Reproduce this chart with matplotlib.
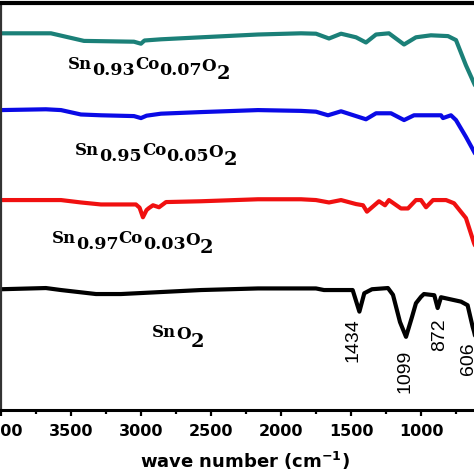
import matplotlib
matplotlib.use("Agg")
import matplotlib.pyplot as plt
import matplotlib.transforms as mtransforms
from matplotlib.ticker import MultipleLocator

# ---------------- data (transmittance, arbitrary units, offset per sample) -------------
teal_wn = [4000, 3643, 3407, 3050, 3000, 2975, 2857, 2571, 2164, 1857, 1750, 1657, 1571,
           1464, 1393, 1321, 1229, 1121, 1036, 929, 807, 750, 679, 621, 600]
teal_t = [94.2, 94.2, 92.3, 92.1, 91.6, 92.4, 92.7, 93.2, 93.9, 94.2, 94.1, 92.9, 94.1,
          93.2, 91.9, 93.9, 94.2, 91.4, 93.2, 93.7, 93.5, 92.5, 86.2, 81.7, 80.1]

blue_wn = [4000, 3679, 3571, 3429, 3286, 3050, 3000, 2960, 2857, 2571, 2164, 1857, 1750,
           1664, 1571, 1464, 1393, 1321, 1214, 1121, 1050, 857, 843, 786, 750, 679, 621, 600]
blue_t = [75.0, 75.2, 75.0, 73.9, 73.7, 73.5, 73.0, 73.6, 74.1, 74.5, 75.0, 74.8, 74.6,
          73.7, 74.7, 73.5, 72.7, 74.2, 74.2, 72.5, 73.7, 73.7, 73.0, 73.7, 72.5, 68.3, 64.6, 63.2]

red_wn = [4000, 3571, 3429, 3286, 3036, 3010, 2986, 2960, 2943, 2914, 2871, 2821, 2571,
          2164, 1857, 1750, 1657, 1571, 1464, 1414, 1386, 1300, 1257, 1229, 1143, 1093,
          1036, 1000, 964, 914, 821, 764, 679, 621, 600]
red_t = [52.5, 52.5, 51.9, 51.4, 51.4, 50.6, 48.2, 50.0, 50.5, 51.2, 50.7, 52.0, 52.2,
         52.7, 52.7, 52.5, 51.9, 52.5, 51.5, 51.2, 49.6, 52.2, 51.2, 52.5, 50.4, 50.4,
         52.5, 52.5, 50.7, 52.5, 52.5, 51.7, 48.0, 41.7, 40.0]

black_wn = [4000, 3679, 3571, 3321, 3143, 2857, 2571, 2164, 1857, 1750, 1693, 1621, 1488,
            1440, 1405, 1350, 1236, 1200, 1150, 1107, 1064, 1036, 1000, 979, 905, 881,
            857, 714, 667, 631, 621, 600]
black_t = [30.2, 30.5, 30.0, 29.0, 29.0, 29.5, 30.0, 30.4, 30.4, 30.4, 30.0, 30.0, 30.0,
           24.6, 29.2, 30.2, 30.5, 28.8, 22.0, 18.3, 23.3, 26.7, 28.3, 29.0, 28.7, 25.5,
           28.2, 27.1, 26.2, 20.8, 19.6, 16.5]

series = [
    (teal_wn, teal_t, "#1b8078"),
    (blue_wn, blue_t, "#0a0ae6"),
    (red_wn, red_t, "#f01010"),
    (black_wn, black_t, "#000000"),
]

# sample labels: (segments, anchor wavenumber, anchor value)
labels = [
    ([("Sn", "n"), ("0.93", "s"), ("Co", "n"), ("0.07", "s"), ("O", "o"), ("2", "e")], 3521, 85.2),
    ([("Sn", "n"), ("0.95", "s"), ("Co", "n"), ("0.05", "s"), ("O", "o"), ("2", "e")], 3471, 63.7),
    ([("Sn", "n"), ("0.97", "s"), ("Co", "n"), ("0.03", "s"), ("O", "o"), ("2", "e")], 3636, 41.7),
    ([("Sn", "n"), ("O", "o"), ("2", "e")], 2921, 18.2),
]

peak_labels = ["1434", "1099", "872", "606"]
peak_pos_wn = [1486, 1114, 864, 664]
peak_pos_t = [23.0, 15.0, 23.0, 17.0]

xticks = [4000, 3500, 3000, 2500, 2000, 1500, 1000]

# ---------------- figure ----------------
fig = plt.figure(figsize=(4.74, 4.74), dpi=100)
ax = fig.add_axes([0.002, 0.135, 0.998, 0.8597])

for wn, t, c in series:
    ax.plot(wn, t, color=c, lw=3.0, solid_joinstyle="round", solid_capstyle="round")

ax.set_xlim(4000, 621.4)
ax.set_ylim(0, 101.9)

ax.set_xticks(xticks)
ax.set_xticklabels([str(v) for v in xticks])
ax.xaxis.set_minor_locator(MultipleLocator(250))
ax.set_yticks([])
ax.tick_params(axis="x", which="major", direction="out", length=4, width=1.6, pad=6)
ax.tick_params(axis="x", which="minor", direction="out", length=3, width=1.6)
for lab in ax.get_xticklabels():
    lab.set_fontfamily("DejaVu Sans")
    lab.set_fontweight("bold")
    lab.set_fontsize(11.5)

ax.spines["right"].set_visible(False)
ax.spines["bottom"].set_linewidth(2.2)
ax.spines["top"].set_linewidth(3.0)
ax.spines["left"].set_linewidth(1.6)
ax.spines["left"].set_color("#333333")

ax.set_xlabel(r"wave number (cm$^{\mathbf{-1}}$)", fontfamily="DejaVu Sans",
              fontweight="bold", fontsize=13)
ax.xaxis.set_label_coords(0.516, -0.098)

# formula labels
renderer = fig.canvas.get_renderer()
style = {"n": (12.0, 0), "s": (12.5, -6), "o": (12.0, -2), "e": (14.0, -10)}
for parts, x0, y0 in labels:
    dx = 0.0
    for s, kind in parts:
        size, dy = style[kind]
        tr = mtransforms.offset_copy(ax.transData, fig=fig, x=dx, y=dy, units="dots")
        t = ax.text(x0, y0, s, transform=tr, fontsize=size, fontweight="bold",
                    fontfamily="DejaVu Serif", ha="left", va="baseline")
        dx += t.get_window_extent(renderer).width

for s, xw, yt in zip(peak_labels, peak_pos_wn, peak_pos_t):
    ax.text(xw, yt, s, rotation=90, ha="center", va="top", fontsize=14,
            fontfamily="Liberation Sans")

fig.savefig("out.png", dpi=100)
